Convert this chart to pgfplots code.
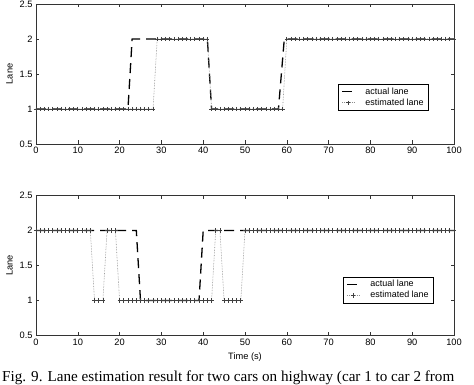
\documentclass[border=0pt]{standalone}
\usepackage{fontspec}
\setmainfont{Liberation Sans}
\newfontfamily\capfont{Liberation Serif}
\usepackage{pgfplots}
\pgfplotsset{compat=1.18}
\begin{document}
\begin{tikzpicture}
\useasboundingbox (0,0) rectangle (474bp,385bp);
\pgfplotsset{
  lanestyle/.style={
    scale only axis, width=418bp, height=140bp,
    xmin=0, xmax=100, ymin=0.5, ymax=2.5,
    xtick={0,10,...,100}, ytick={0.5,1,1.5,2,2.5},
    yticklabels={0.5,1,1.5,2,2.5},
    tick align=inside, tick pos=both,
    major tick length=3.5bp,
    axis line style={black!80, line width=0.6bp},
    every tick/.style={black!80, line width=0.5bp},
    tick label style={font=\fontsize{9.3}{10}\selectfont},
    label style={font=\fontsize{9.3}{10}\selectfont},
    /pgf/number format/assume math mode=true,
    ylabel={Lane},
    legend cell align=left,
    legend style={font=\fontsize{9}{11}\selectfont, draw=black, line width=0.5bp,
      inner xsep=3bp, inner ysep=1.5bp, row sep=-1bp,
      /tikz/column 1/.style={column sep=9bp}},
    legend image code/.code={
      \draw[mark repeat=2,mark phase=2,#1] plot coordinates {(0cm,0cm) (0.2cm,0cm) (0.4cm,0cm)};},
  },
  actual/.style={black, line width=1.3bp, dash pattern=on 10bp off 6bp},
  estim/.style={black!45, line width=0.6bp, densely dotted, mark=+, mark size=2.1bp,
    mark options={solid, black!75, line width=0.75bp}},
}
% top axis
\begin{axis}[lanestyle, at={(36bp,241bp)}, anchor=south west,
  legend style={at={(rel axis cs:0.940,0.4286)}, anchor=north east}]
\addplot[actual] coordinates {(0,1)(22,1)(23,2)(41,2)(42,1)(58,1)(59.4,2)(100,2)};
\addlegendentry{actual lane}
\addplot[estim] coordinates {
(0,1)(1,1)(2,1)(3,1)(4,1)(5,1)(6,1)(7,1)(8,1)(9,1)(10,1)(11,1)(12,1)(13,1)(14,1)(15,1)(16,1)(17,1)(18,1)(19,1)(20,1)(21,1)(22,1)(23,1)(24,1)(25,1)(26,1)(27,1)(28,1)
(29,2)(30,2)(31,2)(32,2)(33,2)(34,2)(35,2)(36,2)(37,2)(38,2)(39,2)(40,2)(41,2)
(42,1)(43,1)(44,1)(45,1)(46,1)(47,1)(48,1)(49,1)(50,1)(51,1)(52,1)(53,1)(54,1)(55,1)(56,1)(57,1)(58,1)(59,1)
(60,2)(61,2)(62,2)(63,2)(64,2)(65,2)(66,2)(67,2)(68,2)(69,2)(70,2)(71,2)(72,2)(73,2)(74,2)(75,2)(76,2)(77,2)(78,2)(79,2)(80,2)
(81,2)(82,2)(83,2)(84,2)(85,2)(86,2)(87,2)(88,2)(89,2)(90,2)(91,2)(92,2)(93,2)(94,2)(95,2)(96,2)(97,2)(98,2)(99,2)(100,2)};
\addlegendentry{estimated lane}
\end{axis}
% bottom axis
\begin{axis}[lanestyle, at={(36bp,49.5bp)}, anchor=south west,
  xlabel={Time (s)},
  legend style={at={(rel axis cs:0.952,0.42)}, anchor=north east}]
\addplot[actual] coordinates {(0,2)(24,2)(25,1)(39,1)(40,2)(100,2)};
\addlegendentry{actual lane}
\addplot[estim] coordinates {
(0,2)(1,2)(2,2)(3,2)(4,2)(5,2)(6,2)(7,2)(8,2)(9,2)(10,2)(11,2)(12,2)(13,2)
(14,1)(15,1)(16,1)
(17,2)(18,2)(19,2)
(20,1)(21,1)(22,1)(23,1)(24,1)(25,1)(26,1)(27,1)(28,1)(29,1)(30,1)(31,1)(32,1)(33,1)(34,1)(35,1)(36,1)(37,1)(38,1)(39,1)(40,1)(41,1)(42,1)
(43,2)(44,2)
(45,1)(46,1)(47,1)(48,1)(49,1)
(50,2)(51,2)(52,2)(53,2)(54,2)(55,2)(56,2)(57,2)(58,2)(59,2)(60,2)(61,2)(62,2)(63,2)(64,2)(65,2)(66,2)(67,2)(68,2)(69,2)(70,2)
(71,2)(72,2)(73,2)(74,2)(75,2)(76,2)(77,2)(78,2)(79,2)(80,2)(81,2)(82,2)(83,2)(84,2)(85,2)(86,2)(87,2)(88,2)(89,2)(90,2)
(91,2)(92,2)(93,2)(94,2)(95,2)(96,2)(97,2)(98,2)(99,2)(100,2)};
\addlegendentry{estimated lane}
\end{axis}
\node[anchor=base west, inner sep=0pt, font=\capfont\fontsize{15.2}{16}\selectfont] at (2bp,4bp)
  {Fig. 9. Lane estimation result for two cars on highway (car 1 to car 2 from};
\end{tikzpicture}
\end{document}
